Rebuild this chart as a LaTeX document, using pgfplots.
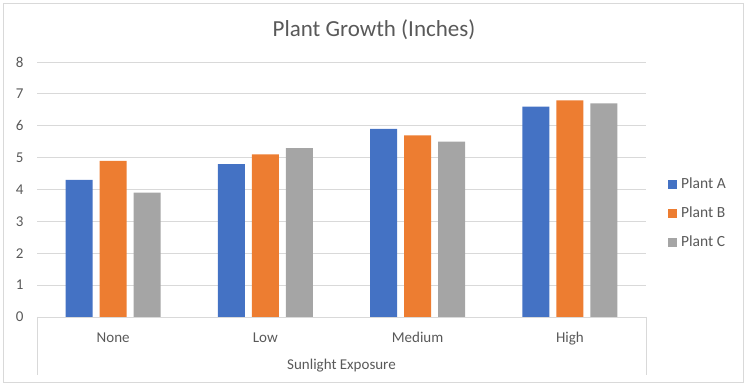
\documentclass[border=0pt]{standalone}
\usepackage{pgfplots}
\pgfplotsset{compat=1.18}
\usepackage{fontspec}
\setmainfont{Carlito}
\definecolor{pa}{RGB}{68,114,196}
\definecolor{pb}{RGB}{237,125,49}
\definecolor{pc}{RGB}{165,165,165}
\definecolor{txt}{RGB}{89,89,89}
\definecolor{grd}{RGB}{217,217,217}
\begin{document}
\begin{tikzpicture}[x=1pt,y=1pt]
\path (0,0) rectangle (746,385);
\draw[grd, line width=0.8pt] (3,3) rectangle (743,382);
\node[txt, font=\fontsize{23}{26}\selectfont] at (374,355) {Plant Growth (Inches)};
\begin{axis}[
  at={(37pt,68pt)}, anchor=south west,
  scale only axis, width=609pt, height=255pt,
  ybar=7pt, bar width=27pt,
  xmin=-0.5, xmax=3.5, ymin=0, ymax=8,
  xtick={0,1,2,3}, xticklabels={None,Low,Medium,High},
  ytick={0,1,...,8},
  axis x line*=bottom, axis y line*=left,
  x axis line style={grd, line width=0.8pt, -},
  y axis line style={draw=none},
  ymajorgrids, grid style={grd, line width=0.8pt},
  major tick length=0pt,
  tick label style={txt, font=\fontsize{15}{18}\selectfont},
  /pgf/number format/assume math mode=true,
  xticklabel style={yshift=-12pt},
  yticklabel style={xshift=-10pt},
  legend style={at={(1.036,0.404)}, anchor=west, draw=none, fill=none,
    inner sep=0pt, row sep=14pt, column sep=3pt, font=\fontsize{15.5}{18}\selectfont, text=txt,
    nodes={inner sep=1pt, text height=10pt, text depth=3pt}},
  legend cell align=left,
  legend image code/.code={\fill[#1] (0pt,-4.5pt) rectangle (9pt,4.5pt);},
  clip=false,
]
\addplot[fill=pa, draw=none] coordinates {(0,4.3) (1,4.8) (2,5.9) (3,6.6)};
\addplot[fill=pb, draw=none] coordinates {(0,4.9) (1,5.1) (2,5.7) (3,6.8)};
\addplot[fill=pc, draw=none] coordinates {(0,3.9) (1,5.3) (2,5.5) (3,6.7)};
\legend{Plant A, Plant B, Plant C}
\end{axis}
\draw[grd, line width=0.8pt] (37,68) -- (37,10);
\draw[grd, line width=0.8pt] (646,68) -- (646,10);
\node[txt, font=\fontsize{15}{18}\selectfont] at (341.5,19) {Sunlight Exposure};
\end{tikzpicture}
\end{document}
